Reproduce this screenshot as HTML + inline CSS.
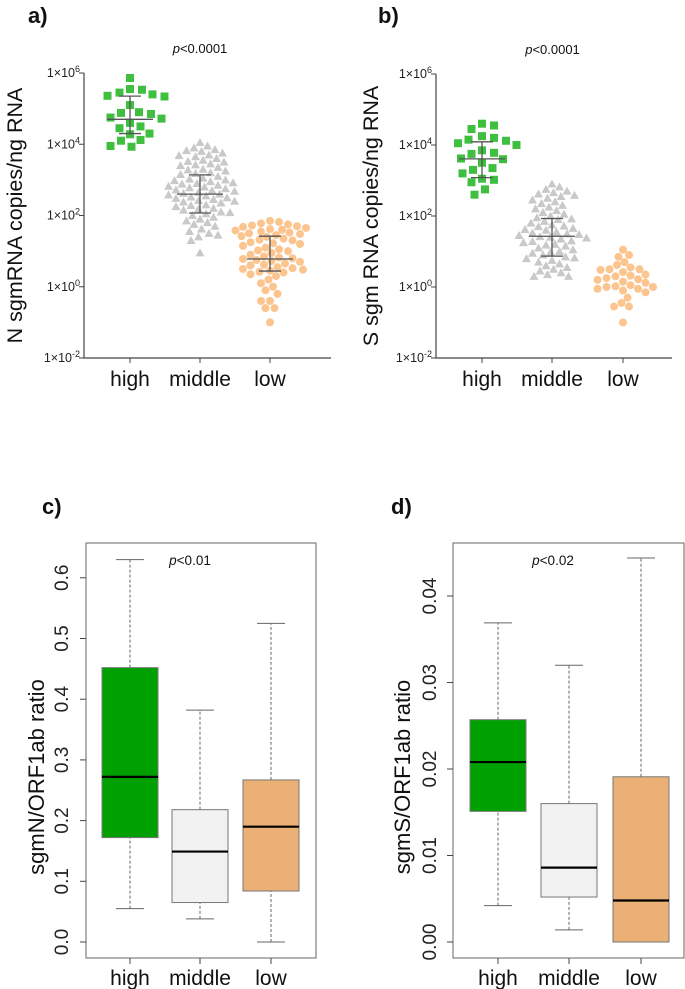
<!DOCTYPE html>
<html><head><meta charset="utf-8"><style>
html,body{margin:0;padding:0;background:#fff;}
svg{display:block;font-family:"Liberation Sans",Arial,sans-serif;}
</style></head><body>
<svg id="fig" width="685" height="989" viewBox="0 0 685 989" xmlns="http://www.w3.org/2000/svg"></svg>
<script>
// ---------- data ----------
const categories = ["high","middle","low"];
// panel a: log10 N sgmRNA copies/ng RNA
const aHigh = [5.86,5.55,5.53,5.45,5.4,5.36,5.34,5.1,4.9,4.88,4.85,4.75,4.72,4.6,4.5,4.45,4.3,4.28,4.12,4.1,3.95,3.93];
const aMid = [4.05,3.95,3.9,3.85,3.82,3.8,3.75,3.7,3.68,3.65,3.6,3.55,3.52,3.5,3.45,3.42,3.4,3.35,3.3,3.28,3.25,3.2,3.18,3.15,3.1,3.05,3.02,3.0,2.98,2.95,2.92,2.9,2.88,2.85,2.82,2.8,2.78,2.75,2.72,2.7,2.68,2.65,2.62,2.6,2.58,2.55,2.52,2.5,2.48,2.45,2.42,2.4,2.38,2.35,2.3,2.28,2.25,2.2,2.18,2.15,2.1,2.08,2.05,2.0,1.95,1.9,1.85,1.8,1.75,1.7,1.62,1.55,1.5,1.45,1.4,1.3,0.95];
const aLow = [1.85,1.82,1.78,1.75,1.72,1.7,1.68,1.65,1.62,1.6,1.58,1.55,1.52,1.5,1.48,1.45,1.42,1.4,1.35,1.32,1.3,1.25,1.22,1.2,1.15,1.1,1.05,1.02,1.0,0.95,0.9,0.85,0.82,0.8,0.78,0.75,0.72,0.7,0.65,0.62,0.6,0.55,0.52,0.5,0.48,0.45,0.42,0.4,0.35,0.3,0.2,0.1,0.0,-0.1,-0.2,-0.4,-0.4,-0.6,-0.6,-1.0];
const aSummary = [[4.3,4.7,5.35],[2.07,2.6,3.14],[0.44,0.78,1.42]];
// panel b: log10 S sgm RNA copies/ng RNA
const bHigh = [4.6,4.55,4.45,4.25,4.2,4.15,4.12,4.05,4.0,3.85,3.78,3.75,3.62,3.6,3.5,3.35,3.3,3.2,3.05,3.02,2.95,2.75,2.6];
const bMid = [2.9,2.82,2.75,2.7,2.66,2.62,2.58,2.55,2.5,2.45,2.4,2.35,2.3,2.25,2.2,2.15,2.1,2.05,2.0,1.95,1.92,1.9,1.85,1.8,1.75,1.72,1.7,1.65,1.62,1.6,1.55,1.52,1.5,1.48,1.45,1.42,1.4,1.38,1.35,1.3,1.28,1.25,1.2,1.18,1.15,1.1,1.05,1.0,0.98,0.95,0.9,0.85,0.82,0.8,0.75,0.7,0.65,0.6,0.55,0.5,0.45,0.4,0.35,0.3,0.3];
const bLow = [1.05,0.9,0.85,0.7,0.62,0.55,0.5,0.5,0.48,0.42,0.35,0.32,0.3,0.25,0.22,0.2,0.15,0.12,0.05,0.02,0.0,0.0,-0.05,-0.05,-0.1,-0.15,-0.3,-0.45,-0.55,-0.55,-1.0];
const bSummary = [[3.08,3.61,4.09],[0.87,1.43,1.93],null];
// panel c: sgmN/ORF1ab ratio boxplot [min,q1,median,q3,max]
const cBoxes = [[0.055,0.172,0.272,0.452,0.63],[0.038,0.065,0.149,0.218,0.382],[0.0,0.084,0.19,0.267,0.525]];
const cTicks = ["0.0","0.1","0.2","0.3","0.4","0.5","0.6"];
// panel d: sgmS/ORF1ab ratio
const dBoxes = [[0.0042,0.0151,0.0208,0.0257,0.0369],[0.0014,0.0052,0.0086,0.0160,0.032],[0.0,0.0,0.0048,0.0191,0.0444]];
const dTicks = ["0.00","0.01","0.02","0.03","0.04"];
const logTicks = [-2,0,2,4,6];

// ---------- helpers ----------
const NS="http://www.w3.org/2000/svg";
const svg=document.getElementById('fig');
function mk(tag,attrs,parent){const e=document.createElementNS(NS,tag);for(const k in attrs)e.setAttribute(k,attrs[k]);(parent||svg).appendChild(e);return e;}
function txt(s,x,y,size,opts,parent){const t=mk('text',Object.assign({x:x,y:y,'font-size':size,fill:'#111'},opts||{}),parent);t.textContent=s;return t;}

function swarm(vals,cx,yf,d){
  const placed=[];
  const sorted=vals.map(v=>yf(v)).sort((a,b)=>a-b);
  sorted.forEach(y=>{
    let k=0,x=cx;
    while(true){
      const off=Math.ceil(k/2)*(k%2?1:-1)*1.5;
      x=cx+off;
      if(!placed.some(p=>Math.hypot(p[0]-x,p[1]-y)<d))break;
      k++; if(k>200)break;
    }
    placed.push([x,y]);
  });
  return placed;
}

function scatterPanel(cfg){
  const g=mk('g',{});
  
  
  const y=v=>cfg.y0-(v-(-2))*(cfg.y0-cfg.y1)/8;
  const xs=cfg.xs;
  const ax=mk('path',{d:`M${cfg.ax},${y(6)} V${cfg.y0} H${cfg.axEnd}`,stroke:'#444','stroke-width':1.2,fill:'none'},g);
  
  logTicks.forEach(t=>{
    const tk=mk('line',{x1:cfg.ax-5,x2:cfg.ax,y1:y(t),y2:y(t),stroke:'#444'},g);
    
    const lab=mk('text',{x:cfg.ax-4,y:y(t)+4,'font-size':12.5,fill:'#222','text-anchor':'end'},g);
    
    lab.innerHTML=`1×10<tspan dy="-5" font-size="9">${t}</tspan>`;
  });
  xs.forEach((x,i)=>{
    mk('line',{x1:x,x2:x,y1:cfg.y0,y2:cfg.y0+5,stroke:'#444'},g);
    const l=txt(categories[i],x,cfg.y0+28,21,{'text-anchor':'middle'},g);
    
  });
  const yt=txt(cfg.title,0,0,21.5,{'text-anchor':'middle',transform:`translate(${cfg.titleX},${(y(6)+cfg.y0)/2}) rotate(-90)`},g);
  
  const p=mk('text',{x:(xs[0]+xs[2])/2,y:y(6)-20,'font-size':13,fill:'#111','text-anchor':'middle'},g);
  
  p.innerHTML='<tspan font-style="italic">p</tspan>&lt;0.0001';
  const colors=['#3fbf3f','#c9c9c9','#fcc58f'];
  cfg.groups.forEach((vals,i)=>{
    const pts=swarm(vals,xs[i],y,i==0?11:8);
    pts.forEach(pt=>{
      let m;
      if(i==0){m=mk('rect',{x:pt[0]-4,y:pt[1]-4,width:8,height:8,fill:colors[0]},g);}
      else if(i==1){m=mk('polygon',{points:`${pt[0]},${pt[1]-4.5} ${pt[0]-4.5},${pt[1]+3.5} ${pt[0]+4.5},${pt[1]+3.5}`,fill:colors[1]},g);}
      else {m=mk('circle',{cx:pt[0],cy:pt[1],r:4,fill:colors[2]},g);}
      
      
    });
  });
  cfg.summary.forEach((s,i)=>{
    if(!s)return;
    const x=xs[i];
    const e=mk('path',{d:`M${x-23},${y(s[1])} H${x+23} M${x},${y(s[0])} V${y(s[2])} M${x-11},${y(s[0])} H${x+11} M${x-11},${y(s[2])} H${x+11}`,stroke:'#555','stroke-width':1.3,fill:'none'},g);
    
  });
}

function boxPanel(cfg){
  const g=mk('g',{});
  
  
  const y=v=>cfg.yZero-v*cfg.pxPer;
  const fr=mk('rect',{x:cfg.fx0,y:cfg.fy0,width:cfg.fx1-cfg.fx0,height:cfg.fy1-cfg.fy0,fill:'none',stroke:'#666','stroke-width':1},g);
  
  cfg.ticks.forEach(t=>{
    const v=parseFloat(t);
    mk('line',{x1:cfg.fx0-6,x2:cfg.fx0,y1:y(v),y2:y(v),stroke:'#444'},g);
    const l=txt(t,0,0,19,{'text-anchor':'middle',fill:'#222',transform:`translate(${cfg.tickX},${y(v)}) rotate(-90)`},g);
    
  });
  const yt=txt(cfg.title,0,0,22,{'text-anchor':'middle',transform:`translate(${cfg.titleX},777) rotate(-90)`},g);
  
  const p=mk('text',{x:cfg.pX,y:cfg.fy0+22,'font-size':13.5,fill:'#111','text-anchor':'middle'},g);
  
  p.innerHTML='<tspan font-style="italic">p</tspan>'+cfg.p;
  const fills=['#00a000','#f2f2f2','#ebb075'];
  cfg.boxes.forEach((b,i)=>{
    const x=cfg.xs[i];
    mk('line',{x1:x,x2:x,y1:cfg.fy1,y2:cfg.fy1+6,stroke:'#444'},g);
    const l=txt(categories[i],x,cfg.fy1+27,21,{'text-anchor':'middle'},g);
    
    const w=mk('path',{d:`M${x},${y(b[0])} V${y(b[1])} M${x},${y(b[3])} V${y(b[4])}`,stroke:'#666','stroke-dasharray':'3,2',fill:'none'},g);
    
    mk('path',{d:`M${x-14},${y(b[0])} H${x+14} M${x-14},${y(b[4])} H${x+14}`,stroke:'#666',fill:'none'},g);
    const r=mk('rect',{x:x-28,y:y(b[3]),width:56,height:y(b[1])-y(b[3]),fill:fills[i],stroke:'#777'},g);
    
    const m=mk('line',{x1:x-28,x2:x+28,y1:y(b[2]),y2:y(b[2]),stroke:'#000','stroke-width':2.2},g);
    
  });
}

// panel labels
[["a)",28,23],["b)",378,23],["c)",42,514],["d)",391,514]].forEach(l=>{
  const t=txt(l[0],l[1],l[2],22,{'font-weight':'bold'});
  
  
});

scatterPanel({name:'panel-a',ax:84,axEnd:331,y0:358,y1:73,xs:[130,200,270],title:'N sgmRNA copies/ng RNA',titleX:22,groups:[aHigh,aMid,aLow],summary:aSummary});
scatterPanel({name:'panel-b',ax:436,axEnd:672,y0:358,y1:74,xs:[482,552,623],title:'S sgm RNA copies/ng RNA',titleX:378,groups:[bHigh,bMid,bLow],summary:bSummary});
boxPanel({name:'panel-c',fx0:86,fx1:316,fy0:543,fy1:958,yZero:942,pxPer:607,ticks:cTicks,tickX:68,title:'sgmN/ORF1ab ratio',titleX:44,pX:190,p:'<0.01',boxes:cBoxes,xs:[130,200,271]});
boxPanel({name:'panel-d',fx0:453,fx1:684,fy0:543,fy1:958,yZero:942,pxPer:8650,ticks:dTicks,tickX:436,title:'sgmS/ORF1ab ratio',titleX:410,pX:553,p:'<0.02',boxes:dBoxes,xs:[498,569,641]});
</script>
</body></html>
